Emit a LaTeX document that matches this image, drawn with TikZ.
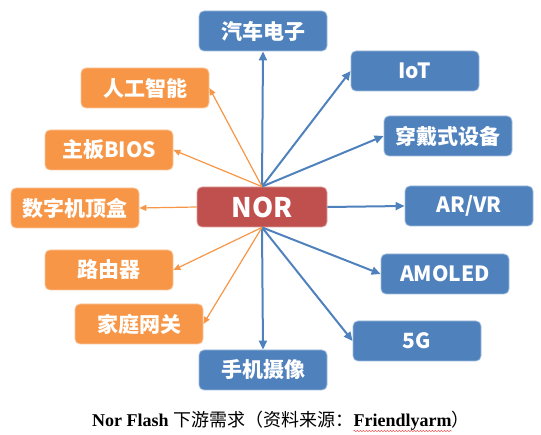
\documentclass[tikz,border=0pt]{standalone}
\usepackage{fontspec}
\setmainfont{Liberation Serif}
\newfontfamily\cjk{Noto Sans CJK SC}
\usetikzlibrary{arrows.meta,positioning,decorations.pathmorphing}
\definecolor{appblue}{HTML}{4F81BD}
\definecolor{apporange}{HTML}{F79646}
\definecolor{norred}{HTML}{C0504D}

\begin{document}
\begin{tikzpicture}[
  x=1pt,y=-1pt,
  appbox/.style={rounded corners=5pt,minimum width=128pt,minimum height=40pt,
                 inner sep=0pt,text=white,line width=0.8pt,
                 font=\cjk\bfseries\fontsize{21}{24}\selectfont},
  bluebox/.style={appbox,fill=appblue,draw=appblue!55!white},
  orangebox/.style={appbox,fill=apporange,draw=apporange!55!white},
  norbox/.style={appbox,fill=norred,draw=norred!55!white,minimum width=130pt,
                 font=\cjk\bfseries\fontsize{27}{30}\selectfont},
  bluelink/.style={draw=appblue,line width=2pt,-{Triangle[length=9pt,width=8pt]}},
  orangelink/.style={draw=apporange,line width=1.2pt,-{Triangle[length=7pt,width=6pt]}}
]
\useasboundingbox (0,0) rectangle (541,435);

\node[norbox] (nor) at (262,207) {NOR};

% right side
\foreach \name/\x/\y/\txt in {car/263/31/汽车电子,iot/415/71/IoT,wear/448/136/穿戴式设备,
    arvr/469/206/{AR/VR},amoled/445/274/AMOLED,fiveg/417/341/5G,cam/263/370/手机摄像}
  \node[bluebox] (\name) at (\x,\y) {\txt};

% left side
\foreach \name/\x/\y/\txt in {ai/145/88/人工智能,bios/109/150/主板BIOS,stb/75/208/数字机顶盒,
    router/109/270/路由器,gw/139/324/家庭网关}
  \node[orangebox] (\name) at (\x,\y) {\txt};

\foreach \t/\a in {car/south,iot/west,wear/west}
  \draw[bluelink] (nor.north) -- (\t.\a);
\foreach \t/\a in {cam/north,amoled/west,fiveg/west}
  \draw[bluelink] (nor.south) -- (\t.\a);
\draw[bluelink] (nor.east) -- (arvr.west);

\foreach \t in {ai,bios}
  \draw[orangelink] (nor.north) -- (\t.east);
\foreach \t in {router,gw}
  \draw[orangelink] (nor.south) -- (\t.east);
\draw[orangelink] (nor.west) -- (stb.east);

% caption
\node[anchor=base west,inner sep=0pt,font=\bfseries\fontsize{18}{20}\selectfont] (cap) at (92,427)
  {Nor Flash {\cjk\mdseries 下游需求（资料来源：}};
\node[anchor=base west,inner sep=0pt,font=\bfseries\fontsize{18}{20}\selectfont] (src) at (cap.base east)
  {Friendlyarm};
\node[anchor=base west,inner sep=0pt,font=\cjk\fontsize{18}{20}\selectfont] (capend) at (src.base east)
  {）};
\draw[red!80,line width=0.4pt,decorate,decoration={snake,amplitude=0.7pt,segment length=3pt}]
  ([yshift=-4pt]src.base west) -- ([yshift=-4pt]src.base east);
\end{tikzpicture}
\end{document}
